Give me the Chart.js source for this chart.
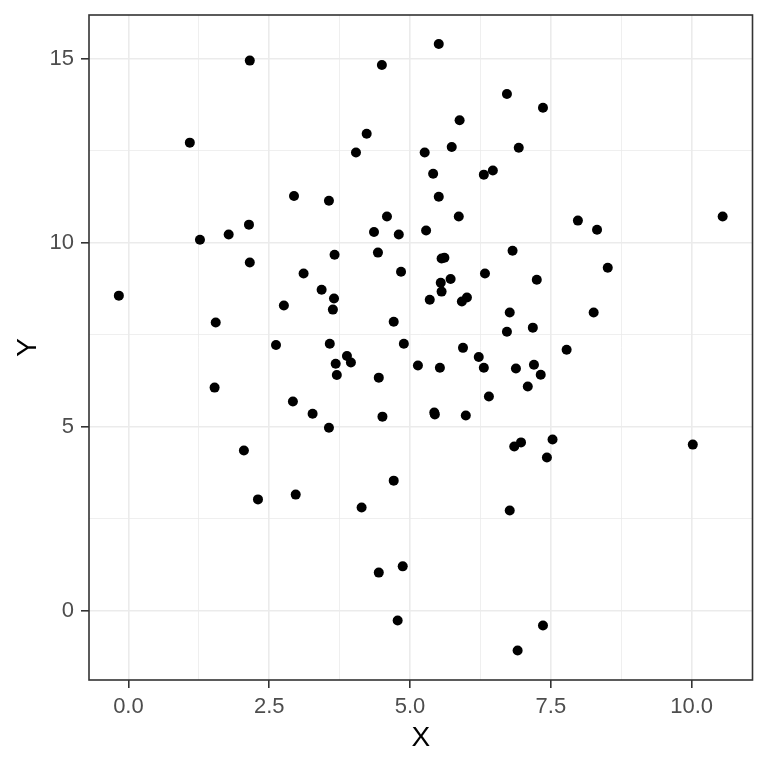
<!DOCTYPE html>
<html lang="en">
<head>
  <meta charset="UTF-8" />
  <title>X vs Y scatter</title>
  <script src="https://cdn.jsdelivr.net/npm/chart.js"></script>
  <style>
    body {
      margin: 0;
      background: #ffffff;
    }
    #wrap {
      width: 768px;
      height: 768px;
    }
  </style>
</head>
<body>
  <div id="wrap"><canvas id="scatter" width="768" height="768"></canvas></div>

  <script>
    // values
    const xValues = [
      2.155, 4.50, 4.23, 1.09, 4.04, 5.26, 2.94, 3.56, 4.59, 2.14,
      4.36, 4.80, 5.285, 1.78, 1.27, 3.66, 4.43, 2.155, 3.11, 4.84,
      3.43, -0.17, 3.65, 2.76, 3.63, 1.55, 4.71, 2.62, 3.575, 4.89,
      5.51, 6.72, 7.36, 5.88, 5.74, 6.93, 5.41, 6.31, 6.47, 5.51,
      5.865, 7.98, 8.32, 10.55, 6.82, 5.56, 5.61, 8.51, 6.33, 5.72,
      7.25, 5.545, 5.56, 5.35, 5.92, 6.01, 6.77, 8.26, 7.18, 6.72,
      5.94, 7.78, 5.14, 5.53, 6.22, 6.31, 6.88, 7.20, 7.32, 7.09,
      6.40, 5.43, 5.44, 5.99, 6.85, 6.97, 7.53, 7.43, 10.02, 6.77,
      7.36, 6.91, 3.88, 3.95, 3.68, 3.70, 4.445, 1.53, 2.92, 3.27,
      4.51, 3.56, 2.05, 4.71, 2.30, 2.97, 4.14, 4.445, 4.87, 4.78
    ];
    const yValues = [
      14.95, 14.83, 12.96, 12.72, 12.45, 12.45, 11.27, 11.14, 10.71, 10.49,
      10.29, 10.22, 10.33, 10.22, 10.08, 9.67, 9.73, 9.46, 9.16, 9.21,
      8.72, 8.56, 8.48, 8.29, 8.18, 7.83, 7.85, 7.22, 7.25, 7.25,
      15.40, 14.04, 13.67, 13.33, 12.60, 12.58, 11.875, 11.85, 11.96, 11.25,
      10.71, 10.60, 10.35, 10.71, 9.78, 9.57, 9.59, 9.32, 9.16, 9.01,
      8.99, 8.91, 8.67, 8.45, 8.40, 8.51, 8.10, 8.10, 7.69, 7.58,
      7.14, 7.09, 6.66, 6.60, 6.89, 6.60, 6.58, 6.68, 6.41, 6.09,
      5.82, 5.38, 5.33, 5.30, 4.46, 4.57, 4.65, 4.16, 4.51, 2.72,
      -0.41, -1.09, 6.92, 6.74, 6.71, 6.40, 6.33, 6.06, 5.68, 5.35,
      5.27, 4.97, 4.35, 3.53, 3.02, 3.15, 2.80, 1.03, 1.20, -0.27
    ];

    // grid positions (major + minor) and their labels
    const xTicks = [0, 1.25, 2.5, 3.75, 5, 6.25, 7.5, 8.75, 10];
    const xTickLabels = ['0.0', '', '2.5', '', '5.0', '', '7.5', '', '10.0'];
    const yTicks = [0, 2.5, 5, 7.5, 10, 12.5, 15];
    const yTickLabels = ['0', '', '5', '', '10', '', '15'];

    const points = xValues.map((x, i) => ({ x: x, y: yValues[i] }));

    const isMajor = labels => ctx => labels[ctx.index] !== '';

    function gridFor(labels) {
      const major = isMajor(labels);
      return {
        color: '#ebebeb',
        lineWidth: ctx => major(ctx) ? 1.6 : 0.8,
        drawTicks: true,
        tickLength: 8,
        tickWidth: 1.6,
        tickColor: ctx => major(ctx) ? '#333333' : 'rgba(0,0,0,0)'
      };
    }

    // ggplot style panel border
    const panelBorder = {
      id: 'panelBorder',
      afterDraw(chart) {
        const a = chart.chartArea;
        const c = chart.ctx;
        c.save();
        c.strokeStyle = '#333333';
        c.lineWidth = 1.6;
        c.strokeRect(a.left, a.top, a.right - a.left, a.bottom - a.top);
        c.restore();
      }
    };

    const tickFont = { family: '"Liberation Sans", Arial, sans-serif', size: 22 };
    const titleFont = { family: '"Liberation Sans", Arial, sans-serif', size: 28 };

    new Chart(document.getElementById('scatter'), {
      type: 'scatter',
      data: {
        datasets: [{
          data: points,
          backgroundColor: '#000000',
          borderWidth: 0,
          pointRadius: 5,
          pointHoverRadius: 5
        }]
      },
      options: {
        responsive: false,
        animation: false,
        layout: { padding: { top: 15, right: 15.5, left: 0, bottom: 0 } },
        plugins: {
          legend: { display: false },
          tooltip: { enabled: false }
        },
        scales: {
          x: {
            type: 'linear',
            min: -0.70,
            max: 11.08,
            afterBuildTicks: axis => { axis.ticks = xTicks.map(v => ({ value: v })); },
            afterFit: axis => {
              axis.height = 88;
              axis.paddingLeft = 0;
              axis.paddingRight = 0;
            },
            border: { display: false },
            grid: gridFor(xTickLabels),
            ticks: {
              autoSkip: false,
              maxRotation: 0,
              padding: 6,
              color: '#4d4d4d',
              font: tickFont,
              callback: (v, i) => xTickLabels[i]
            },
            title: {
              display: true,
              text: 'X',
              color: '#000000',
              font: titleFont,
              padding: { top: 0, bottom: 13 }
            }
          },
          y: {
            type: 'linear',
            min: -1.89,
            max: 16.19,
            afterBuildTicks: axis => { axis.ticks = yTicks.map(v => ({ value: v })); },
            afterFit: axis => {
              axis.width = 89;
              axis.paddingTop = 0;
              axis.paddingBottom = 0;
            },
            border: { display: false },
            grid: gridFor(yTickLabels),
            ticks: {
              autoSkip: false,
              padding: 7,
              color: '#4d4d4d',
              font: tickFont,
              callback: (v, i) => yTickLabels[i]
            },
            title: {
              display: true,
              text: 'Y',
              color: '#000000',
              font: titleFont,
              padding: { top: 11, bottom: 0 }
            }
          }
        }
      },
      plugins: [panelBorder]
    });
  </script>
</body>
</html>
